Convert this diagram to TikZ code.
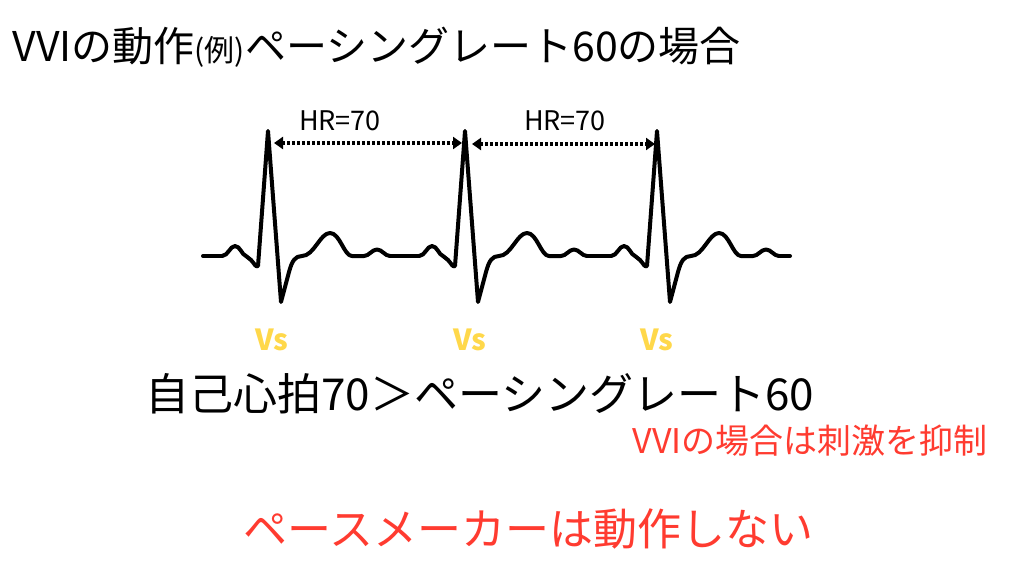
\documentclass[tikz,border=0pt]{standalone}
\usepackage{fontspec}
\setmainfont{Noto Sans CJK JP}
\usetikzlibrary{arrows.meta}
\definecolor{vsyellow}{HTML}{FFD84A}
\definecolor{alertred}{HTML}{FF3B30}
\begin{document}
\begin{tikzpicture}[x=1pt,y=-1pt,
  ecg/.style={line width=4pt,line cap=round,line join=round,black},
  hrarrow/.style={line width=3.2pt,dash pattern=on 2.5pt off 2.5pt,{Triangle[length=9pt,width=12pt]}-{Triangle[length=9pt,width=12pt]}},
  lbl/.style={inner sep=0pt,anchor=west},
  vs/.style={inner sep=0pt,text=vsyellow,font=\bfseries\fontsize{29}{32}\selectfont},
  hr/.style={inner sep=0pt,font=\fontsize{27}{30}\selectfont}]
\useasboundingbox (0,0) rectangle (1024,576);
\fill[white] (0,0) rectangle (1024,576);

% title
\node[lbl,font=\fontsize{41}{46}\selectfont] (title) at (12,47)
  {VVIの動作{\fontsize{30}{34}\selectfont(例)}ペーシングレート60の場合};

% ECG trace
\foreach \r in {268,465,657}{
  \begin{scope}[xshift=\r pt]
  \draw[ecg] (-46,256) .. controls (-40,256) and (-38,246) .. (-33,246)
     .. controls (-28,246) and (-26,255) .. (-22,256)
     -- (-17,260) .. controls (-14,263) and (-12,268) .. (-10,266)
     -- (0,131) -- (13,302) -- (21,272)
     .. controls (24,261) and (27,256) .. (34,256)
     .. controls (46,256) and (52,233) .. (62,233)
     .. controls (72,233) and (76,256) .. (84,256)
     -- (96,256) .. controls (101,256) and (104,249.5) .. (109,249.5)
     .. controls (114,249.5) and (117,256) .. (122,256);
  \end{scope}
}
\draw[ecg] (203,256) -- (222,256);
\draw[ecg] (390,256) -- (419,256);
\draw[ecg] (587,256) -- (611,256);
\draw[ecg] (779,256) -- (790,256);

% HR arrows
\coordinate (a1) at (274,143);
\coordinate (b1) at (462,143);
\coordinate (a2) at (472,144);
\coordinate (b2) at (655,144);
\draw[hrarrow] (a1) -- (b1);
\draw[hrarrow] (a2) -- (b2);
\node[hr] (hr1) at (340,121) {HR=70};
\node[hr] (hr2) at (565,121) {HR=70};

% Vs labels
\node[vs] (vs1) at (272,340) {Vs};
\node[vs] (vs2) at (470,340) {Vs};
\node[vs] (vs3) at (657,340) {Vs};

% statements
\node[lbl,font=\fontsize{44}{50}\selectfont] (cmp) at (145,394) {自己心拍70＞ペーシングレート60};
\node[lbl,text=alertred,font=\fontsize{34}{38}\selectfont] (inh) at (632,441) {VVIの場合は刺激を抑制};
\node[lbl,text=alertred,font=\fontsize{44}{50}\selectfont] (res) at (243,529) {ペースメーカーは動作しない};
\end{tikzpicture}
\end{document}
